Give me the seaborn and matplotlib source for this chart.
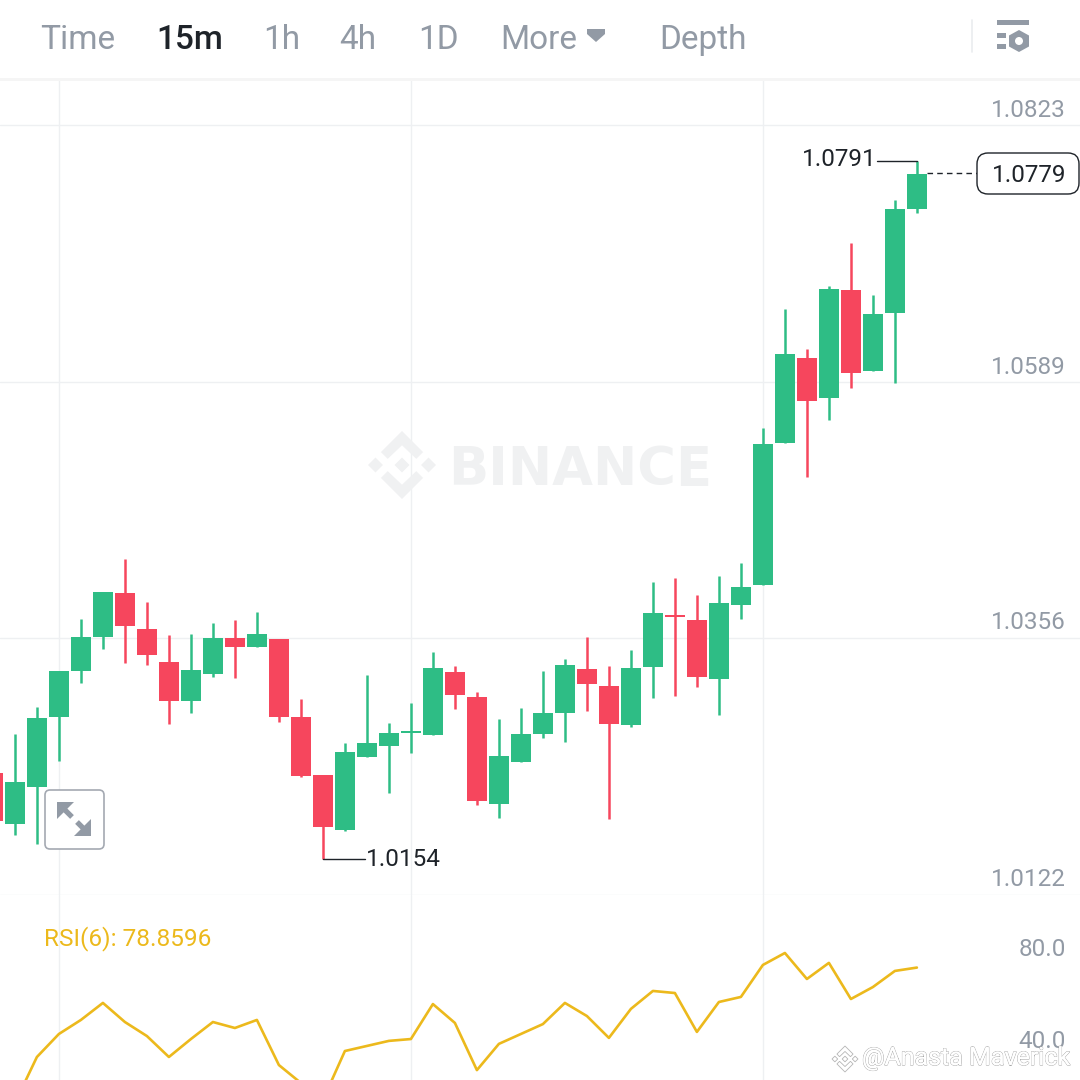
import numpy as np
import pandas as pd
import matplotlib
matplotlib.use("Agg")
import matplotlib.pyplot as plt
import matplotlib.patheffects as pe
from matplotlib.patches import FancyBboxPatch, Polygon, Rectangle
import seaborn as sns

# --- Data ---
candle_idx = list(range(-1, 42))
opens = [1.02331, 1.01867, 1.02203, 1.02840, 1.03260, 1.03569, 1.03970, 1.03642, 1.03342, 1.02986, 1.03232,
         1.03560, 1.03478, 1.03551, 1.02840, 1.02312, 1.01812, 1.02477, 1.02577, 1.02695, 1.02677, 1.03251,
         1.03023, 1.02049, 1.02431, 1.02686, 1.02877, 1.03278, 1.03123, 1.02768, 1.03296, 1.03770, 1.03724,
         1.03187, 1.03860, 1.04042, 1.05336, 1.06109, 1.05745, 1.06728, 1.05991, 1.06519, 1.07465]
highs = [1.02331, 1.02686, 1.02931, 1.03260, 1.03733, 1.03979, 1.04279, 1.03888, 1.03587, 1.03597, 1.03697,
         1.03724, 1.03797, 1.03551, 1.03005, 1.02312, 1.02604, 1.03223, 1.02786, 1.02968, 1.03433, 1.03305,
         1.03069, 1.02822, 1.02922, 1.03260, 1.03369, 1.03569, 1.03305, 1.03451, 1.04070, 1.04106, 1.03951,
         1.04124, 1.04243, 1.05472, 1.06555, 1.06191, 1.06765, 1.07156, 1.06683, 1.07547, 1.07902]
lows = [1.01894, 1.01767, 1.01685, 1.02440, 1.03151, 1.03460, 1.03333, 1.03315, 1.02777, 1.02877, 1.03205,
        1.03196, 1.03478, 1.02795, 1.02294, 1.01548, 1.01803, 1.02477, 1.02149, 1.02513, 1.02677, 1.02913,
        1.02040, 1.01921, 1.02431, 1.02649, 1.02613, 1.02895, 1.01912, 1.02749, 1.03014, 1.03032, 1.03114,
        1.02858, 1.03733, 1.04042, 1.05336, 1.05026, 1.05545, 1.05836, 1.05991, 1.05882, 1.07429]
closes = [1.01894, 1.02249, 1.02831, 1.03260, 1.03569, 1.03979, 1.03669, 1.03405, 1.02986, 1.03269, 1.03560,
          1.03478, 1.03597, 1.02840, 1.02303, 1.01840, 1.02522, 1.02604, 1.02695, 1.02713, 1.03287, 1.03041,
          1.02076, 1.02486, 1.02686, 1.02877, 1.03315, 1.03142, 1.02777, 1.03287, 1.03788, 1.03751, 1.03205,
          1.03879, 1.04024, 1.05327, 1.06146, 1.05718, 1.06737, 1.05973, 1.06510, 1.07465, 1.07784]
rsi_values = [np.nan, 20.0, 40.0, 50.0, 56.1, 63.5, 55.2, 49.1, 40.0, 47.8, 55.2, 52.6, 56.1, 36.5, 28.7, 21.3,
              42.6, 44.8, 47.0, 47.8, 63.0, 54.8, 34.3, 45.7, 50.0, 54.3, 63.5, 57.8, 48.3, 60.9, 68.7, 67.8,
              50.9, 63.9, 66.1, 80.0, 85.2, 73.9, 80.9, 65.2, 70.4, 77.4, 78.86]

price_ticks = [1.0823, 1.0589, 1.0356, 1.0122]
rsi_ticks = [80.0, 40.0]
grid_candles = [2, 18, 34]
tab_labels = ["Time", "15m", "1h", "4h", "1D", "More", "Depth"]
tab_left_px = [40, 156, 263, 339, 418, 500, 659]
last_price = 1.0779

GREEN = "#2ebd85"
RED = "#f6465d"
GREY = "#929aa5"
GRID = "#eef0f2"
DARK = "#1e2329"
YELLOW = "#ecb91c"
LABEL_SIZE = 17.5

df = pd.DataFrame({"i": candle_idx, "open": opens, "high": highs, "low": lows, "close": closes, "rsi": rsi_values})
df["color"] = np.where(df["close"] >= df["open"], GREEN, RED)

sns.set_theme(style="white")
plt.rcParams["font.family"] = ["Roboto", "DejaVu Sans"]

fig = plt.figure(figsize=(10.8, 10.8), dpi=100, facecolor="white")
ax = fig.add_axes([0, 185 / 1080, 1, 815 / 1080])
ax_rsi = fig.add_axes([0, 0, 1, 185 / 1080])
over = fig.add_axes([0, 0, 1, 1], zorder=5)
over.set_xlim(0, 1080)
over.set_ylim(1080, 0)
over.axis("off")
over.patch.set_alpha(0)

xlim = (-14.9 / 22, 1065.1 / 22)
for a in (ax, ax_rsi):
    a.set_xlim(*xlim)
    a.set_xticks(grid_candles)
    a.tick_params(length=0, labelbottom=False, labelleft=False)
    a.grid(True, color=GRID, lw=1)
    a.set_axisbelow(True)
    a.set_xlabel("")
    a.set_ylabel("")
sns.despine(ax=ax, left=True, bottom=True, top=True, right=True)
sns.despine(ax=ax_rsi, left=True, bottom=True, top=True, right=True)

# --- Candles ---
ax.set_ylim(1.0122, 1.0864)
ax.set_yticks(price_ticks)
for line in ax.get_ygridlines():
    line.set_clip_on(False)
ax.vlines(df["i"], df["low"], df["high"], colors=df["color"], lw=1.8, zorder=2)
ax.bar(df["i"], (df["close"] - df["open"]).abs(), bottom=df[["open", "close"]].min(axis=1),
       width=0.88, color=df["color"], lw=0, zorder=3)

for p in price_ticks:
    ax.annotate(f"{p:.4f}", xy=(1, p), xycoords=("axes fraction", "data"), xytext=(-14, 15), textcoords="offset pixels",
                ha="right", va="center", color=GREY, fontsize=LABEL_SIZE)

# high / low / last callouts
ax.plot([39.18, 41], [highs[-1], highs[-1]], color=DARK, lw=1, zorder=2)
over.text(876.5, 160, "1.0791", ha="right", va="center", color=DARK, fontsize=LABEL_SIZE)
ax.plot([14, 15.9], [lows[15], lows[15]], color=DARK, lw=1, zorder=2)
over.text(366, 860, "1.0154", ha="left", va="center", color=DARK, fontsize=LABEL_SIZE)
ax.plot([41.45, 43.85], [last_price, last_price], color=DARK, lw=1, dashes=(4, 3), zorder=2)

# --- RSI ---
ax_rsi.set_ylim(30, 110.4)
ax_rsi.set_yticks([])
sns.lineplot(data=df, x="i", y="rsi", color=YELLOW, lw=1.9, ax=ax_rsi)
ax_rsi.set_xlabel("")
ax_rsi.set_ylabel("")
for r in rsi_ticks:
    ax_rsi.annotate(f"{r:.1f}", xy=(1, r), xycoords=("axes fraction", "data"), xytext=(-14, 15), textcoords="offset pixels",
                    ha="right", va="center", color=GREY, fontsize=LABEL_SIZE)
over.text(44, 939, "RSI(6): 78.8596", color=YELLOW, fontsize=17.6, ha="left", va="center")

# --- Toolbar ---
over.add_patch(Rectangle((0, 78), 1080, 2.5, color="#f5f5f5", lw=0))
for lab, left in zip(tab_labels, tab_left_px):
    active = lab == "15m"
    over.text(left, 40, lab, ha="left", va="center", fontsize=24, color=DARK if active else GREY,
              fontweight=500 if active else "normal")
over.add_patch(Polygon([(587, 29), (605, 29), (605, 34), (596, 42), (587, 34)], color=GREY, lw=0))
over.plot([972, 972], [20, 52], color="#eaecef", lw=1.2)
over.add_patch(Rectangle((997, 20), 32, 5, color=GREY, lw=0))
over.add_patch(Rectangle((997, 33), 9, 5, color=GREY, lw=0))
over.add_patch(Rectangle((997, 44), 9, 5, color=GREY, lw=0))
over.add_patch(Polygon([(1019, 30), (1029, 35.5), (1029, 46.5), (1019, 52), (1009, 46.5), (1009, 35.5)],
                       color=GREY, lw=0))
over.add_patch(plt.Circle((1019, 41), 4, color="white", lw=0))

# --- Expand button ---
over.add_patch(FancyBboxPatch((45, 790), 59, 59, boxstyle="round,pad=0,rounding_size=5", fc="white", ec="#a4a9b2", lw=1.2))
over.plot([64, 72], [809, 817], color=GREY, lw=3.8, solid_capstyle="butt")
over.plot([77, 85], [822, 830], color=GREY, lw=3.8, solid_capstyle="butt")
over.add_patch(Polygon([(57, 802), (74, 802), (57, 819)], color=GREY, lw=0))
over.add_patch(Polygon([(91, 836), (74, 836), (91, 819)], color=GREY, lw=0))

# --- Last price box ---
over.add_patch(FancyBboxPatch((977, 153), 102, 41, boxstyle="round,pad=0,rounding_size=11", fc="white", ec=DARK, lw=1))
over.text(1029, 175, "1.0779", ha="center", va="center", color=DARK, fontsize=LABEL_SIZE)


# --- Watermarks ---
def draw_logo(cx, cy, r, **kw):
    top = np.array([(0, -1), (.62, -.38), (.42, -.18), (0, -.58), (-.42, -.18), (-.62, -.38)])
    shapes = [top, top * [1, -1]]
    for dx, h in [(-.78, .22), (.78, .22), (0, .22)]:
        shapes.append(np.array([(dx, -h), (dx + h, 0), (dx, h), (dx - h, 0)]))
    for s in shapes:
        over.add_patch(Polygon(s * r + [cx, cy], **kw))


draw_logo(402, 465, 34, fc="#f0f1f2", ec="none", zorder=0.5)
over.text(448, 465, "BINANCE", ha="left", va="center_baseline", fontsize=38, fontweight="bold", color="#f0f1f2",
          family="DejaVu Sans", zorder=0.5)
draw_logo(845, 1059, 13, fc="white", ec="#b5b5b5", lw=0.6)
over.text(862, 1058, "@Anasta Maverick", ha="left", va="center", fontsize=18, color="white",
          path_effects=[pe.withStroke(linewidth=0.8, foreground="#a8a8a8"), pe.Normal()])

fig.savefig("out.png", dpi=100)
